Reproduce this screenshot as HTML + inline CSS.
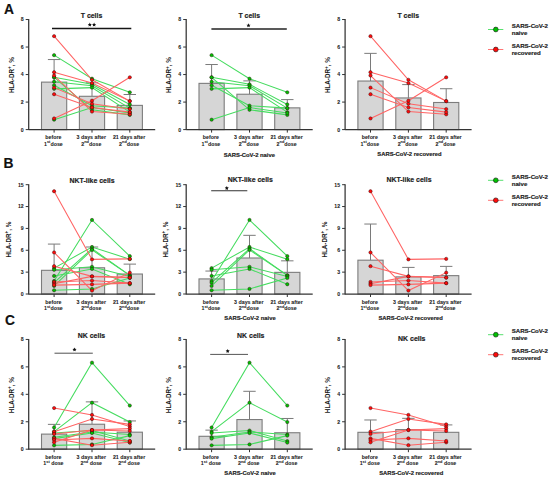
<!DOCTYPE html>
<html><head><meta charset="utf-8"><style>
html,body{margin:0;padding:0;background:#fff;overflow:hidden;width:550px;height:480px;}
svg{display:block;font-family:"Liberation Sans", sans-serif;}
text{stroke:#1a1a1a;stroke-width:0.16px;} .xl{stroke-width:0.05px;}
</style></head><body>
<svg width="550" height="480" viewBox="0 0 550 480">
<rect width="550" height="480" fill="#fff"/>
<line x1="54.10" y1="82.13" x2="54.10" y2="59.56" stroke="#7a7a7a" stroke-width="1"/>
<line x1="47.90" y1="59.56" x2="60.30" y2="59.56" stroke="#7a7a7a" stroke-width="1"/>
<rect x="41.50" y="82.13" width="25.2" height="47.47" fill="#d6d6d6" stroke="#7c7c7c" stroke-width="1.1"/>
<line x1="92.00" y1="96.30" x2="92.00" y2="82.82" stroke="#7a7a7a" stroke-width="1"/>
<line x1="85.80" y1="82.82" x2="98.20" y2="82.82" stroke="#7a7a7a" stroke-width="1"/>
<rect x="79.40" y="96.30" width="25.2" height="33.30" fill="#d6d6d6" stroke="#7c7c7c" stroke-width="1.1"/>
<line x1="129.80" y1="105.38" x2="129.80" y2="94.51" stroke="#7a7a7a" stroke-width="1"/>
<line x1="123.60" y1="94.51" x2="136.00" y2="94.51" stroke="#7a7a7a" stroke-width="1"/>
<rect x="117.20" y="105.38" width="25.2" height="24.22" fill="#d6d6d6" stroke="#7c7c7c" stroke-width="1.1"/>
<polyline points="54.10,55.16 92.00,78.69 129.80,92.31" fill="none" stroke="#45dc5f" stroke-width="1.05"/>
<polyline points="54.10,77.31 92.00,84.33 129.80,104.42" fill="none" stroke="#45dc5f" stroke-width="1.05"/>
<polyline points="54.10,77.31 92.00,109.79 129.80,114.88" fill="none" stroke="#45dc5f" stroke-width="1.05"/>
<polyline points="54.10,81.72 92.00,85.71 129.80,108.13" fill="none" stroke="#45dc5f" stroke-width="1.05"/>
<polyline points="54.10,85.29 92.00,105.66 129.80,108.13" fill="none" stroke="#45dc5f" stroke-width="1.05"/>
<polyline points="54.10,88.87 92.00,87.63 129.80,112.12" fill="none" stroke="#45dc5f" stroke-width="1.05"/>
<polyline points="54.10,119.69 92.00,107.58 129.80,113.09" fill="none" stroke="#45dc5f" stroke-width="1.05"/>
<polyline points="54.10,36.17 92.00,79.79 129.80,101.12" fill="none" stroke="#ff6464" stroke-width="1.05"/>
<polyline points="54.10,72.22 92.00,83.09 129.80,101.12" fill="none" stroke="#ff6464" stroke-width="1.05"/>
<polyline points="54.10,75.52 92.00,111.57 129.80,114.33" fill="none" stroke="#ff6464" stroke-width="1.05"/>
<polyline points="54.10,87.63 92.00,103.73 129.80,109.10" fill="none" stroke="#ff6464" stroke-width="1.05"/>
<polyline points="54.10,94.24 92.00,107.45 129.80,112.12" fill="none" stroke="#ff6464" stroke-width="1.05"/>
<polyline points="54.10,118.45 92.00,100.70 129.80,77.31" fill="none" stroke="#ff6464" stroke-width="1.05"/>
<circle cx="54.10" cy="55.16" r="1.65" fill="#00c000" stroke="#301010" stroke-width="0.45"/>
<circle cx="92.00" cy="78.69" r="1.65" fill="#00c000" stroke="#301010" stroke-width="0.45"/>
<circle cx="129.80" cy="92.31" r="1.65" fill="#00c000" stroke="#301010" stroke-width="0.45"/>
<circle cx="54.10" cy="77.31" r="1.65" fill="#00c000" stroke="#301010" stroke-width="0.45"/>
<circle cx="92.00" cy="84.33" r="1.65" fill="#00c000" stroke="#301010" stroke-width="0.45"/>
<circle cx="129.80" cy="104.42" r="1.65" fill="#00c000" stroke="#301010" stroke-width="0.45"/>
<circle cx="54.10" cy="77.31" r="1.65" fill="#00c000" stroke="#301010" stroke-width="0.45"/>
<circle cx="92.00" cy="109.79" r="1.65" fill="#00c000" stroke="#301010" stroke-width="0.45"/>
<circle cx="129.80" cy="114.88" r="1.65" fill="#00c000" stroke="#301010" stroke-width="0.45"/>
<circle cx="54.10" cy="81.72" r="1.65" fill="#00c000" stroke="#301010" stroke-width="0.45"/>
<circle cx="92.00" cy="85.71" r="1.65" fill="#00c000" stroke="#301010" stroke-width="0.45"/>
<circle cx="129.80" cy="108.13" r="1.65" fill="#00c000" stroke="#301010" stroke-width="0.45"/>
<circle cx="54.10" cy="85.29" r="1.65" fill="#00c000" stroke="#301010" stroke-width="0.45"/>
<circle cx="92.00" cy="105.66" r="1.65" fill="#00c000" stroke="#301010" stroke-width="0.45"/>
<circle cx="129.80" cy="108.13" r="1.65" fill="#00c000" stroke="#301010" stroke-width="0.45"/>
<circle cx="54.10" cy="88.87" r="1.65" fill="#00c000" stroke="#301010" stroke-width="0.45"/>
<circle cx="92.00" cy="87.63" r="1.65" fill="#00c000" stroke="#301010" stroke-width="0.45"/>
<circle cx="129.80" cy="112.12" r="1.65" fill="#00c000" stroke="#301010" stroke-width="0.45"/>
<circle cx="54.10" cy="119.69" r="1.65" fill="#00c000" stroke="#301010" stroke-width="0.45"/>
<circle cx="92.00" cy="107.58" r="1.65" fill="#00c000" stroke="#301010" stroke-width="0.45"/>
<circle cx="129.80" cy="113.09" r="1.65" fill="#00c000" stroke="#301010" stroke-width="0.45"/>
<circle cx="54.10" cy="36.17" r="1.65" fill="#ff0a0a" stroke="#301010" stroke-width="0.45"/>
<circle cx="92.00" cy="79.79" r="1.65" fill="#ff0a0a" stroke="#301010" stroke-width="0.45"/>
<circle cx="129.80" cy="101.12" r="1.65" fill="#ff0a0a" stroke="#301010" stroke-width="0.45"/>
<circle cx="54.10" cy="72.22" r="1.65" fill="#ff0a0a" stroke="#301010" stroke-width="0.45"/>
<circle cx="92.00" cy="83.09" r="1.65" fill="#ff0a0a" stroke="#301010" stroke-width="0.45"/>
<circle cx="129.80" cy="101.12" r="1.65" fill="#ff0a0a" stroke="#301010" stroke-width="0.45"/>
<circle cx="54.10" cy="75.52" r="1.65" fill="#ff0a0a" stroke="#301010" stroke-width="0.45"/>
<circle cx="92.00" cy="111.57" r="1.65" fill="#ff0a0a" stroke="#301010" stroke-width="0.45"/>
<circle cx="129.80" cy="114.33" r="1.65" fill="#ff0a0a" stroke="#301010" stroke-width="0.45"/>
<circle cx="54.10" cy="87.63" r="1.65" fill="#ff0a0a" stroke="#301010" stroke-width="0.45"/>
<circle cx="92.00" cy="103.73" r="1.65" fill="#ff0a0a" stroke="#301010" stroke-width="0.45"/>
<circle cx="129.80" cy="109.10" r="1.65" fill="#ff0a0a" stroke="#301010" stroke-width="0.45"/>
<circle cx="54.10" cy="94.24" r="1.65" fill="#ff0a0a" stroke="#301010" stroke-width="0.45"/>
<circle cx="92.00" cy="107.45" r="1.65" fill="#ff0a0a" stroke="#301010" stroke-width="0.45"/>
<circle cx="129.80" cy="112.12" r="1.65" fill="#ff0a0a" stroke="#301010" stroke-width="0.45"/>
<circle cx="54.10" cy="118.45" r="1.65" fill="#ff0a0a" stroke="#301010" stroke-width="0.45"/>
<circle cx="92.00" cy="100.70" r="1.65" fill="#ff0a0a" stroke="#301010" stroke-width="0.45"/>
<circle cx="129.80" cy="77.31" r="1.65" fill="#ff0a0a" stroke="#301010" stroke-width="0.45"/>
<line x1="28.70" y1="19.02" x2="28.70" y2="130.10" stroke="#333333" stroke-width="1.25"/>
<line x1="28.70" y1="129.60" x2="155.20" y2="129.60" stroke="#333333" stroke-width="1.25"/>
<line x1="25.70" y1="129.60" x2="28.70" y2="129.60" stroke="#333333" stroke-width="1"/>
<text x="23.70" y="131.50" font-size="5.2" class="xl" text-anchor="end" font-weight="bold" fill="#222">0</text>
<line x1="25.70" y1="102.08" x2="28.70" y2="102.08" stroke="#333333" stroke-width="1"/>
<text x="23.70" y="103.98" font-size="5.2" class="xl" text-anchor="end" font-weight="bold" fill="#222">2</text>
<line x1="25.70" y1="74.56" x2="28.70" y2="74.56" stroke="#333333" stroke-width="1"/>
<text x="23.70" y="76.46" font-size="5.2" class="xl" text-anchor="end" font-weight="bold" fill="#222">4</text>
<line x1="25.70" y1="47.04" x2="28.70" y2="47.04" stroke="#333333" stroke-width="1"/>
<text x="23.70" y="48.94" font-size="5.2" class="xl" text-anchor="end" font-weight="bold" fill="#222">6</text>
<line x1="25.70" y1="19.52" x2="28.70" y2="19.52" stroke="#333333" stroke-width="1"/>
<text x="23.70" y="21.42" font-size="5.2" class="xl" text-anchor="end" font-weight="bold" fill="#222">8</text>
<line x1="54.10" y1="129.60" x2="54.10" y2="132.60" stroke="#333333" stroke-width="1"/>
<line x1="92.00" y1="129.60" x2="92.00" y2="132.60" stroke="#333333" stroke-width="1"/>
<line x1="129.80" y1="129.60" x2="129.80" y2="132.60" stroke="#333333" stroke-width="1"/>
<text x="53.40" y="139.20" font-size="5.3" text-anchor="middle" font-weight="bold" fill="#222" class="xl">before</text>
<text x="53.40" y="145.50" font-size="5.3" text-anchor="middle" font-weight="bold" fill="#222" class="xl">1<tspan font-size="3.9" dy="-2.1">st</tspan><tspan dy="2.1">dose</tspan></text>
<text x="91.30" y="139.20" font-size="5.3" text-anchor="middle" font-weight="bold" fill="#222" class="xl">3 days after</text>
<text x="91.30" y="145.50" font-size="5.3" text-anchor="middle" font-weight="bold" fill="#222" class="xl">2<tspan font-size="3.9" dy="-2.1">nd</tspan><tspan dy="2.1">dose</tspan></text>
<text x="129.10" y="139.20" font-size="5.3" text-anchor="middle" font-weight="bold" fill="#222" class="xl">21 days after</text>
<text x="129.10" y="145.50" font-size="5.3" text-anchor="middle" font-weight="bold" fill="#222" class="xl">2<tspan font-size="3.9" dy="-2.1">nd</tspan><tspan dy="2.1">dose</tspan></text>
<text transform="translate(13.80,75.11) rotate(-90)" font-size="6.3" text-anchor="middle" font-weight="bold" fill="#1a1a1a" class="xl">HLA-DR<tspan font-size="4.6" dy="-2.7">+</tspan><tspan dy="2.7">, %</tspan></text>
<text x="91.55" y="18.00" font-size="6.95" text-anchor="middle" font-weight="bold" fill="#222">T cells</text>
<line x1="52.00" y1="28.50" x2="131.30" y2="28.50" stroke="#151515" stroke-width="1.3"/>
<polygon points="89.80,22.60 90.42,23.90 91.84,24.09 90.80,25.07 91.06,26.49 89.80,25.80 88.54,26.49 88.80,25.07 87.76,24.09 89.18,23.90" fill="#111"/>
<polygon points="94.10,22.60 94.72,23.90 96.14,24.09 95.10,25.07 95.36,26.49 94.10,25.80 92.84,26.49 93.10,25.07 92.06,24.09 93.48,23.90" fill="#111"/>
<line x1="211.60" y1="83.37" x2="211.60" y2="64.52" stroke="#7a7a7a" stroke-width="1"/>
<line x1="205.40" y1="64.52" x2="217.80" y2="64.52" stroke="#7a7a7a" stroke-width="1"/>
<rect x="199.00" y="83.37" width="25.2" height="46.23" fill="#d6d6d6" stroke="#7c7c7c" stroke-width="1.1"/>
<line x1="249.50" y1="94.24" x2="249.50" y2="80.89" stroke="#7a7a7a" stroke-width="1"/>
<line x1="243.30" y1="80.89" x2="255.70" y2="80.89" stroke="#7a7a7a" stroke-width="1"/>
<rect x="236.90" y="94.24" width="25.2" height="35.36" fill="#d6d6d6" stroke="#7c7c7c" stroke-width="1.1"/>
<line x1="287.30" y1="107.86" x2="287.30" y2="99.60" stroke="#7a7a7a" stroke-width="1"/>
<line x1="281.10" y1="99.60" x2="293.50" y2="99.60" stroke="#7a7a7a" stroke-width="1"/>
<rect x="274.70" y="107.86" width="25.2" height="21.74" fill="#d6d6d6" stroke="#7c7c7c" stroke-width="1.1"/>
<polyline points="211.60,55.16 249.50,78.69 287.30,92.31" fill="none" stroke="#45dc5f" stroke-width="1.05"/>
<polyline points="211.60,77.31 249.50,84.33 287.30,104.42" fill="none" stroke="#45dc5f" stroke-width="1.05"/>
<polyline points="211.60,77.31 249.50,109.79 287.30,114.88" fill="none" stroke="#45dc5f" stroke-width="1.05"/>
<polyline points="211.60,81.72 249.50,85.71 287.30,108.13" fill="none" stroke="#45dc5f" stroke-width="1.05"/>
<polyline points="211.60,85.29 249.50,105.66 287.30,108.13" fill="none" stroke="#45dc5f" stroke-width="1.05"/>
<polyline points="211.60,88.87 249.50,87.63 287.30,112.12" fill="none" stroke="#45dc5f" stroke-width="1.05"/>
<polyline points="211.60,119.69 249.50,107.58 287.30,113.09" fill="none" stroke="#45dc5f" stroke-width="1.05"/>
<circle cx="211.60" cy="55.16" r="1.65" fill="#00c000" stroke="#301010" stroke-width="0.45"/>
<circle cx="249.50" cy="78.69" r="1.65" fill="#00c000" stroke="#301010" stroke-width="0.45"/>
<circle cx="287.30" cy="92.31" r="1.65" fill="#00c000" stroke="#301010" stroke-width="0.45"/>
<circle cx="211.60" cy="77.31" r="1.65" fill="#00c000" stroke="#301010" stroke-width="0.45"/>
<circle cx="249.50" cy="84.33" r="1.65" fill="#00c000" stroke="#301010" stroke-width="0.45"/>
<circle cx="287.30" cy="104.42" r="1.65" fill="#00c000" stroke="#301010" stroke-width="0.45"/>
<circle cx="211.60" cy="77.31" r="1.65" fill="#00c000" stroke="#301010" stroke-width="0.45"/>
<circle cx="249.50" cy="109.79" r="1.65" fill="#00c000" stroke="#301010" stroke-width="0.45"/>
<circle cx="287.30" cy="114.88" r="1.65" fill="#00c000" stroke="#301010" stroke-width="0.45"/>
<circle cx="211.60" cy="81.72" r="1.65" fill="#00c000" stroke="#301010" stroke-width="0.45"/>
<circle cx="249.50" cy="85.71" r="1.65" fill="#00c000" stroke="#301010" stroke-width="0.45"/>
<circle cx="287.30" cy="108.13" r="1.65" fill="#00c000" stroke="#301010" stroke-width="0.45"/>
<circle cx="211.60" cy="85.29" r="1.65" fill="#00c000" stroke="#301010" stroke-width="0.45"/>
<circle cx="249.50" cy="105.66" r="1.65" fill="#00c000" stroke="#301010" stroke-width="0.45"/>
<circle cx="287.30" cy="108.13" r="1.65" fill="#00c000" stroke="#301010" stroke-width="0.45"/>
<circle cx="211.60" cy="88.87" r="1.65" fill="#00c000" stroke="#301010" stroke-width="0.45"/>
<circle cx="249.50" cy="87.63" r="1.65" fill="#00c000" stroke="#301010" stroke-width="0.45"/>
<circle cx="287.30" cy="112.12" r="1.65" fill="#00c000" stroke="#301010" stroke-width="0.45"/>
<circle cx="211.60" cy="119.69" r="1.65" fill="#00c000" stroke="#301010" stroke-width="0.45"/>
<circle cx="249.50" cy="107.58" r="1.65" fill="#00c000" stroke="#301010" stroke-width="0.45"/>
<circle cx="287.30" cy="113.09" r="1.65" fill="#00c000" stroke="#301010" stroke-width="0.45"/>
<line x1="186.20" y1="19.02" x2="186.20" y2="130.10" stroke="#333333" stroke-width="1.25"/>
<line x1="186.20" y1="129.60" x2="312.70" y2="129.60" stroke="#333333" stroke-width="1.25"/>
<line x1="183.20" y1="129.60" x2="186.20" y2="129.60" stroke="#333333" stroke-width="1"/>
<text x="181.20" y="131.50" font-size="5.2" class="xl" text-anchor="end" font-weight="bold" fill="#222">0</text>
<line x1="183.20" y1="102.08" x2="186.20" y2="102.08" stroke="#333333" stroke-width="1"/>
<text x="181.20" y="103.98" font-size="5.2" class="xl" text-anchor="end" font-weight="bold" fill="#222">2</text>
<line x1="183.20" y1="74.56" x2="186.20" y2="74.56" stroke="#333333" stroke-width="1"/>
<text x="181.20" y="76.46" font-size="5.2" class="xl" text-anchor="end" font-weight="bold" fill="#222">4</text>
<line x1="183.20" y1="47.04" x2="186.20" y2="47.04" stroke="#333333" stroke-width="1"/>
<text x="181.20" y="48.94" font-size="5.2" class="xl" text-anchor="end" font-weight="bold" fill="#222">6</text>
<line x1="183.20" y1="19.52" x2="186.20" y2="19.52" stroke="#333333" stroke-width="1"/>
<text x="181.20" y="21.42" font-size="5.2" class="xl" text-anchor="end" font-weight="bold" fill="#222">8</text>
<line x1="211.60" y1="129.60" x2="211.60" y2="132.60" stroke="#333333" stroke-width="1"/>
<line x1="249.50" y1="129.60" x2="249.50" y2="132.60" stroke="#333333" stroke-width="1"/>
<line x1="287.30" y1="129.60" x2="287.30" y2="132.60" stroke="#333333" stroke-width="1"/>
<text x="210.90" y="139.20" font-size="5.3" text-anchor="middle" font-weight="bold" fill="#222" class="xl">before</text>
<text x="210.90" y="145.50" font-size="5.3" text-anchor="middle" font-weight="bold" fill="#222" class="xl">1<tspan font-size="3.9" dy="-2.1">st</tspan><tspan dy="2.1">dose</tspan></text>
<text x="248.80" y="139.20" font-size="5.3" text-anchor="middle" font-weight="bold" fill="#222" class="xl">3 days after</text>
<text x="248.80" y="145.50" font-size="5.3" text-anchor="middle" font-weight="bold" fill="#222" class="xl">2<tspan font-size="3.9" dy="-2.1">nd</tspan><tspan dy="2.1">dose</tspan></text>
<text x="286.60" y="139.20" font-size="5.3" text-anchor="middle" font-weight="bold" fill="#222" class="xl">21 days after</text>
<text x="286.60" y="145.50" font-size="5.3" text-anchor="middle" font-weight="bold" fill="#222" class="xl">2<tspan font-size="3.9" dy="-2.1">nd</tspan><tspan dy="2.1">dose</tspan></text>
<text transform="translate(171.30,75.11) rotate(-90)" font-size="6.3" text-anchor="middle" font-weight="bold" fill="#1a1a1a" class="xl">HLA-DR<tspan font-size="4.6" dy="-2.7">+</tspan><tspan dy="2.7">, %</tspan></text>
<text x="249.20" y="17.70" font-size="6.95" text-anchor="middle" font-weight="bold" fill="#222">T cells</text>
<text x="249.30" y="157.00" font-size="5.85" text-anchor="middle" font-weight="bold" fill="#1a1a1a">SARS-CoV-2 naive</text>
<line x1="211.40" y1="29.00" x2="286.80" y2="29.00" stroke="#222222" stroke-width="1.35"/>
<polygon points="248.50,23.35 249.12,24.65 250.54,24.84 249.50,25.82 249.76,27.24 248.50,26.55 247.24,27.24 247.50,25.82 246.46,24.84 247.88,24.65" fill="#111"/>
<line x1="370.50" y1="81.03" x2="370.50" y2="53.37" stroke="#7a7a7a" stroke-width="1"/>
<line x1="364.30" y1="53.37" x2="376.70" y2="53.37" stroke="#7a7a7a" stroke-width="1"/>
<rect x="357.90" y="81.03" width="25.2" height="48.57" fill="#d6d6d6" stroke="#7c7c7c" stroke-width="1.1"/>
<line x1="408.40" y1="97.95" x2="408.40" y2="84.60" stroke="#7a7a7a" stroke-width="1"/>
<line x1="402.20" y1="84.60" x2="414.60" y2="84.60" stroke="#7a7a7a" stroke-width="1"/>
<rect x="395.80" y="97.95" width="25.2" height="31.65" fill="#d6d6d6" stroke="#7c7c7c" stroke-width="1.1"/>
<line x1="446.20" y1="102.49" x2="446.20" y2="88.73" stroke="#7a7a7a" stroke-width="1"/>
<line x1="440.00" y1="88.73" x2="452.40" y2="88.73" stroke="#7a7a7a" stroke-width="1"/>
<rect x="433.60" y="102.49" width="25.2" height="27.11" fill="#d6d6d6" stroke="#7c7c7c" stroke-width="1.1"/>
<polyline points="370.50,36.17 408.40,79.79 446.20,101.12" fill="none" stroke="#ff6464" stroke-width="1.05"/>
<polyline points="370.50,72.22 408.40,83.09 446.20,101.12" fill="none" stroke="#ff6464" stroke-width="1.05"/>
<polyline points="370.50,75.52 408.40,111.57 446.20,114.33" fill="none" stroke="#ff6464" stroke-width="1.05"/>
<polyline points="370.50,87.63 408.40,103.73 446.20,109.10" fill="none" stroke="#ff6464" stroke-width="1.05"/>
<polyline points="370.50,94.24 408.40,107.45 446.20,112.12" fill="none" stroke="#ff6464" stroke-width="1.05"/>
<polyline points="370.50,118.45 408.40,100.70 446.20,77.31" fill="none" stroke="#ff6464" stroke-width="1.05"/>
<circle cx="370.50" cy="36.17" r="1.65" fill="#ff0a0a" stroke="#301010" stroke-width="0.45"/>
<circle cx="408.40" cy="79.79" r="1.65" fill="#ff0a0a" stroke="#301010" stroke-width="0.45"/>
<circle cx="446.20" cy="101.12" r="1.65" fill="#ff0a0a" stroke="#301010" stroke-width="0.45"/>
<circle cx="370.50" cy="72.22" r="1.65" fill="#ff0a0a" stroke="#301010" stroke-width="0.45"/>
<circle cx="408.40" cy="83.09" r="1.65" fill="#ff0a0a" stroke="#301010" stroke-width="0.45"/>
<circle cx="446.20" cy="101.12" r="1.65" fill="#ff0a0a" stroke="#301010" stroke-width="0.45"/>
<circle cx="370.50" cy="75.52" r="1.65" fill="#ff0a0a" stroke="#301010" stroke-width="0.45"/>
<circle cx="408.40" cy="111.57" r="1.65" fill="#ff0a0a" stroke="#301010" stroke-width="0.45"/>
<circle cx="446.20" cy="114.33" r="1.65" fill="#ff0a0a" stroke="#301010" stroke-width="0.45"/>
<circle cx="370.50" cy="87.63" r="1.65" fill="#ff0a0a" stroke="#301010" stroke-width="0.45"/>
<circle cx="408.40" cy="103.73" r="1.65" fill="#ff0a0a" stroke="#301010" stroke-width="0.45"/>
<circle cx="446.20" cy="109.10" r="1.65" fill="#ff0a0a" stroke="#301010" stroke-width="0.45"/>
<circle cx="370.50" cy="94.24" r="1.65" fill="#ff0a0a" stroke="#301010" stroke-width="0.45"/>
<circle cx="408.40" cy="107.45" r="1.65" fill="#ff0a0a" stroke="#301010" stroke-width="0.45"/>
<circle cx="446.20" cy="112.12" r="1.65" fill="#ff0a0a" stroke="#301010" stroke-width="0.45"/>
<circle cx="370.50" cy="118.45" r="1.65" fill="#ff0a0a" stroke="#301010" stroke-width="0.45"/>
<circle cx="408.40" cy="100.70" r="1.65" fill="#ff0a0a" stroke="#301010" stroke-width="0.45"/>
<circle cx="446.20" cy="77.31" r="1.65" fill="#ff0a0a" stroke="#301010" stroke-width="0.45"/>
<line x1="345.10" y1="19.02" x2="345.10" y2="130.10" stroke="#333333" stroke-width="1.25"/>
<line x1="345.10" y1="129.60" x2="471.60" y2="129.60" stroke="#333333" stroke-width="1.25"/>
<line x1="342.10" y1="129.60" x2="345.10" y2="129.60" stroke="#333333" stroke-width="1"/>
<text x="340.10" y="131.50" font-size="5.2" class="xl" text-anchor="end" font-weight="bold" fill="#222">0</text>
<line x1="342.10" y1="102.08" x2="345.10" y2="102.08" stroke="#333333" stroke-width="1"/>
<text x="340.10" y="103.98" font-size="5.2" class="xl" text-anchor="end" font-weight="bold" fill="#222">2</text>
<line x1="342.10" y1="74.56" x2="345.10" y2="74.56" stroke="#333333" stroke-width="1"/>
<text x="340.10" y="76.46" font-size="5.2" class="xl" text-anchor="end" font-weight="bold" fill="#222">4</text>
<line x1="342.10" y1="47.04" x2="345.10" y2="47.04" stroke="#333333" stroke-width="1"/>
<text x="340.10" y="48.94" font-size="5.2" class="xl" text-anchor="end" font-weight="bold" fill="#222">6</text>
<line x1="342.10" y1="19.52" x2="345.10" y2="19.52" stroke="#333333" stroke-width="1"/>
<text x="340.10" y="21.42" font-size="5.2" class="xl" text-anchor="end" font-weight="bold" fill="#222">8</text>
<line x1="370.50" y1="129.60" x2="370.50" y2="132.60" stroke="#333333" stroke-width="1"/>
<line x1="408.40" y1="129.60" x2="408.40" y2="132.60" stroke="#333333" stroke-width="1"/>
<line x1="446.20" y1="129.60" x2="446.20" y2="132.60" stroke="#333333" stroke-width="1"/>
<text x="369.80" y="139.20" font-size="5.3" text-anchor="middle" font-weight="bold" fill="#222" class="xl">before</text>
<text x="369.80" y="145.50" font-size="5.3" text-anchor="middle" font-weight="bold" fill="#222" class="xl">1<tspan font-size="3.9" dy="-2.1">st</tspan><tspan dy="2.1">dose</tspan></text>
<text x="407.70" y="139.20" font-size="5.3" text-anchor="middle" font-weight="bold" fill="#222" class="xl">3 days after</text>
<text x="407.70" y="145.50" font-size="5.3" text-anchor="middle" font-weight="bold" fill="#222" class="xl">2<tspan font-size="3.9" dy="-2.1">nd</tspan><tspan dy="2.1">dose</tspan></text>
<text x="445.50" y="139.20" font-size="5.3" text-anchor="middle" font-weight="bold" fill="#222" class="xl">21 days after</text>
<text x="445.50" y="145.50" font-size="5.3" text-anchor="middle" font-weight="bold" fill="#222" class="xl">2<tspan font-size="3.9" dy="-2.1">nd</tspan><tspan dy="2.1">dose</tspan></text>
<text transform="translate(330.20,75.11) rotate(-90)" font-size="6.3" text-anchor="middle" font-weight="bold" fill="#1a1a1a" class="xl">HLA-DR<tspan font-size="4.6" dy="-2.7">+</tspan><tspan dy="2.7">, %</tspan></text>
<text x="408.20" y="17.90" font-size="6.95" text-anchor="middle" font-weight="bold" fill="#222">T cells</text>
<text x="409.50" y="156.40" font-size="5.85" text-anchor="middle" font-weight="bold" fill="#1a1a1a">SARS-CoV-2 recovered</text>
<line x1="488" y1="29.50" x2="503.3" y2="29.50" stroke="#45dc5f" stroke-width="0.9"/>
<circle cx="495.8" cy="29.50" r="2.4" fill="#00c000" stroke="#1a1a1a" stroke-width="0.6"/>
<text x="511.7" y="28.20" font-size="6.1" font-weight="bold" fill="#222">SARS-CoV-2</text>
<text x="511.7" y="35.10" font-size="6.1" font-weight="bold" fill="#222">naive</text>
<line x1="488" y1="49.50" x2="503.3" y2="49.50" stroke="#ff6464" stroke-width="0.9"/>
<circle cx="495.8" cy="49.50" r="2.4" fill="#ff0a0a" stroke="#1a1a1a" stroke-width="0.6"/>
<text x="511.7" y="48.20" font-size="6.1" font-weight="bold" fill="#222">SARS-CoV-2</text>
<text x="511.7" y="55.10" font-size="6.1" font-weight="bold" fill="#222">recovered</text>
<line x1="54.10" y1="270.32" x2="54.10" y2="244.08" stroke="#7a7a7a" stroke-width="1"/>
<line x1="47.90" y1="244.08" x2="60.30" y2="244.08" stroke="#7a7a7a" stroke-width="1"/>
<rect x="41.50" y="270.32" width="25.2" height="23.68" fill="#d6d6d6" stroke="#7c7c7c" stroke-width="1.1"/>
<line x1="92.00" y1="267.77" x2="92.00" y2="247.00" stroke="#7a7a7a" stroke-width="1"/>
<line x1="85.80" y1="247.00" x2="98.20" y2="247.00" stroke="#7a7a7a" stroke-width="1"/>
<rect x="79.40" y="267.77" width="25.2" height="26.23" fill="#d6d6d6" stroke="#7c7c7c" stroke-width="1.1"/>
<line x1="129.80" y1="274.03" x2="129.80" y2="264.12" stroke="#7a7a7a" stroke-width="1"/>
<line x1="123.60" y1="264.12" x2="136.00" y2="264.12" stroke="#7a7a7a" stroke-width="1"/>
<rect x="117.20" y="274.03" width="25.2" height="19.97" fill="#d6d6d6" stroke="#7c7c7c" stroke-width="1.1"/>
<polyline points="54.10,280.96 92.00,219.96 129.80,256.18" fill="none" stroke="#45dc5f" stroke-width="1.05"/>
<polyline points="54.10,268.13 92.00,247.00 129.80,259.17" fill="none" stroke="#45dc5f" stroke-width="1.05"/>
<polyline points="54.10,282.63 92.00,248.67 129.80,275.35" fill="none" stroke="#45dc5f" stroke-width="1.05"/>
<polyline points="54.10,285.91 92.00,249.91 129.80,275.35" fill="none" stroke="#45dc5f" stroke-width="1.05"/>
<polyline points="54.10,269.81 92.00,266.82 129.80,276.51" fill="none" stroke="#45dc5f" stroke-width="1.05"/>
<polyline points="54.10,275.93 92.00,268.93 129.80,284.24" fill="none" stroke="#45dc5f" stroke-width="1.05"/>
<polyline points="54.10,290.28 92.00,288.90 129.80,277.97" fill="none" stroke="#45dc5f" stroke-width="1.05"/>
<polyline points="54.10,191.25 92.00,259.39 129.80,258.88" fill="none" stroke="#ff6464" stroke-width="1.05"/>
<polyline points="54.10,252.46 92.00,290.58 129.80,272.65" fill="none" stroke="#ff6464" stroke-width="1.05"/>
<polyline points="54.10,266.16 92.00,276.37 129.80,277.60" fill="none" stroke="#ff6464" stroke-width="1.05"/>
<polyline points="54.10,281.90 92.00,280.59 129.80,283.14" fill="none" stroke="#ff6464" stroke-width="1.05"/>
<polyline points="54.10,283.65 92.00,276.37 129.80,277.60" fill="none" stroke="#ff6464" stroke-width="1.05"/>
<polyline points="54.10,285.11 92.00,284.38 129.80,283.14" fill="none" stroke="#ff6464" stroke-width="1.05"/>
<circle cx="54.10" cy="280.96" r="1.65" fill="#00c000" stroke="#301010" stroke-width="0.45"/>
<circle cx="92.00" cy="219.96" r="1.65" fill="#00c000" stroke="#301010" stroke-width="0.45"/>
<circle cx="129.80" cy="256.18" r="1.65" fill="#00c000" stroke="#301010" stroke-width="0.45"/>
<circle cx="54.10" cy="268.13" r="1.65" fill="#00c000" stroke="#301010" stroke-width="0.45"/>
<circle cx="92.00" cy="247.00" r="1.65" fill="#00c000" stroke="#301010" stroke-width="0.45"/>
<circle cx="129.80" cy="259.17" r="1.65" fill="#00c000" stroke="#301010" stroke-width="0.45"/>
<circle cx="54.10" cy="282.63" r="1.65" fill="#00c000" stroke="#301010" stroke-width="0.45"/>
<circle cx="92.00" cy="248.67" r="1.65" fill="#00c000" stroke="#301010" stroke-width="0.45"/>
<circle cx="129.80" cy="275.35" r="1.65" fill="#00c000" stroke="#301010" stroke-width="0.45"/>
<circle cx="54.10" cy="285.91" r="1.65" fill="#00c000" stroke="#301010" stroke-width="0.45"/>
<circle cx="92.00" cy="249.91" r="1.65" fill="#00c000" stroke="#301010" stroke-width="0.45"/>
<circle cx="129.80" cy="275.35" r="1.65" fill="#00c000" stroke="#301010" stroke-width="0.45"/>
<circle cx="54.10" cy="269.81" r="1.65" fill="#00c000" stroke="#301010" stroke-width="0.45"/>
<circle cx="92.00" cy="266.82" r="1.65" fill="#00c000" stroke="#301010" stroke-width="0.45"/>
<circle cx="129.80" cy="276.51" r="1.65" fill="#00c000" stroke="#301010" stroke-width="0.45"/>
<circle cx="54.10" cy="275.93" r="1.65" fill="#00c000" stroke="#301010" stroke-width="0.45"/>
<circle cx="92.00" cy="268.93" r="1.65" fill="#00c000" stroke="#301010" stroke-width="0.45"/>
<circle cx="129.80" cy="284.24" r="1.65" fill="#00c000" stroke="#301010" stroke-width="0.45"/>
<circle cx="54.10" cy="290.28" r="1.65" fill="#00c000" stroke="#301010" stroke-width="0.45"/>
<circle cx="92.00" cy="288.90" r="1.65" fill="#00c000" stroke="#301010" stroke-width="0.45"/>
<circle cx="129.80" cy="277.97" r="1.65" fill="#00c000" stroke="#301010" stroke-width="0.45"/>
<circle cx="54.10" cy="191.25" r="1.65" fill="#ff0a0a" stroke="#301010" stroke-width="0.45"/>
<circle cx="92.00" cy="259.39" r="1.65" fill="#ff0a0a" stroke="#301010" stroke-width="0.45"/>
<circle cx="129.80" cy="258.88" r="1.65" fill="#ff0a0a" stroke="#301010" stroke-width="0.45"/>
<circle cx="54.10" cy="252.46" r="1.65" fill="#ff0a0a" stroke="#301010" stroke-width="0.45"/>
<circle cx="92.00" cy="290.58" r="1.65" fill="#ff0a0a" stroke="#301010" stroke-width="0.45"/>
<circle cx="129.80" cy="272.65" r="1.65" fill="#ff0a0a" stroke="#301010" stroke-width="0.45"/>
<circle cx="54.10" cy="266.16" r="1.65" fill="#ff0a0a" stroke="#301010" stroke-width="0.45"/>
<circle cx="92.00" cy="276.37" r="1.65" fill="#ff0a0a" stroke="#301010" stroke-width="0.45"/>
<circle cx="129.80" cy="277.60" r="1.65" fill="#ff0a0a" stroke="#301010" stroke-width="0.45"/>
<circle cx="54.10" cy="281.90" r="1.65" fill="#ff0a0a" stroke="#301010" stroke-width="0.45"/>
<circle cx="92.00" cy="280.59" r="1.65" fill="#ff0a0a" stroke="#301010" stroke-width="0.45"/>
<circle cx="129.80" cy="283.14" r="1.65" fill="#ff0a0a" stroke="#301010" stroke-width="0.45"/>
<circle cx="54.10" cy="283.65" r="1.65" fill="#ff0a0a" stroke="#301010" stroke-width="0.45"/>
<circle cx="92.00" cy="276.37" r="1.65" fill="#ff0a0a" stroke="#301010" stroke-width="0.45"/>
<circle cx="129.80" cy="277.60" r="1.65" fill="#ff0a0a" stroke="#301010" stroke-width="0.45"/>
<circle cx="54.10" cy="285.11" r="1.65" fill="#ff0a0a" stroke="#301010" stroke-width="0.45"/>
<circle cx="92.00" cy="284.38" r="1.65" fill="#ff0a0a" stroke="#301010" stroke-width="0.45"/>
<circle cx="129.80" cy="283.14" r="1.65" fill="#ff0a0a" stroke="#301010" stroke-width="0.45"/>
<line x1="28.70" y1="184.19" x2="28.70" y2="294.50" stroke="#333333" stroke-width="1.25"/>
<line x1="28.70" y1="294.00" x2="155.20" y2="294.00" stroke="#333333" stroke-width="1.25"/>
<line x1="25.70" y1="294.00" x2="28.70" y2="294.00" stroke="#333333" stroke-width="1"/>
<text x="23.70" y="295.90" font-size="5.2" class="xl" text-anchor="end" font-weight="bold" fill="#222">0</text>
<line x1="25.70" y1="272.14" x2="28.70" y2="272.14" stroke="#333333" stroke-width="1"/>
<text x="23.70" y="274.04" font-size="5.2" class="xl" text-anchor="end" font-weight="bold" fill="#222">3</text>
<line x1="25.70" y1="250.28" x2="28.70" y2="250.28" stroke="#333333" stroke-width="1"/>
<text x="23.70" y="252.18" font-size="5.2" class="xl" text-anchor="end" font-weight="bold" fill="#222">6</text>
<line x1="25.70" y1="228.42" x2="28.70" y2="228.42" stroke="#333333" stroke-width="1"/>
<text x="23.70" y="230.32" font-size="5.2" class="xl" text-anchor="end" font-weight="bold" fill="#222">9</text>
<line x1="25.70" y1="206.56" x2="28.70" y2="206.56" stroke="#333333" stroke-width="1"/>
<text x="23.70" y="208.46" font-size="5.2" class="xl" text-anchor="end" font-weight="bold" fill="#222">12</text>
<line x1="25.70" y1="184.69" x2="28.70" y2="184.69" stroke="#333333" stroke-width="1"/>
<text x="23.70" y="186.59" font-size="5.2" class="xl" text-anchor="end" font-weight="bold" fill="#222">15</text>
<line x1="54.10" y1="294.00" x2="54.10" y2="297.00" stroke="#333333" stroke-width="1"/>
<line x1="92.00" y1="294.00" x2="92.00" y2="297.00" stroke="#333333" stroke-width="1"/>
<line x1="129.80" y1="294.00" x2="129.80" y2="297.00" stroke="#333333" stroke-width="1"/>
<text x="53.40" y="303.60" font-size="5.3" text-anchor="middle" font-weight="bold" fill="#222" class="xl">before</text>
<text x="53.40" y="309.90" font-size="5.3" text-anchor="middle" font-weight="bold" fill="#222" class="xl">1<tspan font-size="3.9" dy="-2.1">st</tspan><tspan dy="2.1">dose</tspan></text>
<text x="91.30" y="303.60" font-size="5.3" text-anchor="middle" font-weight="bold" fill="#222" class="xl">3 days after</text>
<text x="91.30" y="309.90" font-size="5.3" text-anchor="middle" font-weight="bold" fill="#222" class="xl">2<tspan font-size="3.9" dy="-2.1">nd</tspan><tspan dy="2.1">dose</tspan></text>
<text x="129.10" y="303.60" font-size="5.3" text-anchor="middle" font-weight="bold" fill="#222" class="xl">21 days after</text>
<text x="129.10" y="309.90" font-size="5.3" text-anchor="middle" font-weight="bold" fill="#222" class="xl">2<tspan font-size="3.9" dy="-2.1">nd</tspan><tspan dy="2.1">dose</tspan></text>
<text transform="translate(10.50,239.65) rotate(-90)" font-size="6.3" text-anchor="middle" font-weight="bold" fill="#1a1a1a" class="xl">HLA-DR<tspan font-size="4.6" dy="-2.7">+</tspan><tspan dy="2.7">, %</tspan></text>
<text x="92.10" y="182.50" font-size="6.95" text-anchor="middle" font-weight="bold" fill="#222">NKT-like cells</text>
<line x1="211.60" y1="278.92" x2="211.60" y2="271.05" stroke="#7a7a7a" stroke-width="1"/>
<line x1="205.40" y1="271.05" x2="217.80" y2="271.05" stroke="#7a7a7a" stroke-width="1"/>
<rect x="199.00" y="278.92" width="25.2" height="15.08" fill="#d6d6d6" stroke="#7c7c7c" stroke-width="1.1"/>
<line x1="249.50" y1="258.00" x2="249.50" y2="235.34" stroke="#7a7a7a" stroke-width="1"/>
<line x1="243.30" y1="235.34" x2="255.70" y2="235.34" stroke="#7a7a7a" stroke-width="1"/>
<rect x="236.90" y="258.00" width="25.2" height="36.00" fill="#d6d6d6" stroke="#7c7c7c" stroke-width="1.1"/>
<line x1="287.30" y1="272.36" x2="287.30" y2="260.84" stroke="#7a7a7a" stroke-width="1"/>
<line x1="281.10" y1="260.84" x2="293.50" y2="260.84" stroke="#7a7a7a" stroke-width="1"/>
<rect x="274.70" y="272.36" width="25.2" height="21.64" fill="#d6d6d6" stroke="#7c7c7c" stroke-width="1.1"/>
<polyline points="211.60,280.96 249.50,219.96 287.30,256.18" fill="none" stroke="#45dc5f" stroke-width="1.05"/>
<polyline points="211.60,268.13 249.50,247.00 287.30,259.17" fill="none" stroke="#45dc5f" stroke-width="1.05"/>
<polyline points="211.60,282.63 249.50,248.67 287.30,275.35" fill="none" stroke="#45dc5f" stroke-width="1.05"/>
<polyline points="211.60,285.91 249.50,249.91 287.30,275.35" fill="none" stroke="#45dc5f" stroke-width="1.05"/>
<polyline points="211.60,269.81 249.50,266.82 287.30,276.51" fill="none" stroke="#45dc5f" stroke-width="1.05"/>
<polyline points="211.60,275.93 249.50,268.93 287.30,284.24" fill="none" stroke="#45dc5f" stroke-width="1.05"/>
<polyline points="211.60,290.28 249.50,288.90 287.30,277.97" fill="none" stroke="#45dc5f" stroke-width="1.05"/>
<circle cx="211.60" cy="280.96" r="1.65" fill="#00c000" stroke="#301010" stroke-width="0.45"/>
<circle cx="249.50" cy="219.96" r="1.65" fill="#00c000" stroke="#301010" stroke-width="0.45"/>
<circle cx="287.30" cy="256.18" r="1.65" fill="#00c000" stroke="#301010" stroke-width="0.45"/>
<circle cx="211.60" cy="268.13" r="1.65" fill="#00c000" stroke="#301010" stroke-width="0.45"/>
<circle cx="249.50" cy="247.00" r="1.65" fill="#00c000" stroke="#301010" stroke-width="0.45"/>
<circle cx="287.30" cy="259.17" r="1.65" fill="#00c000" stroke="#301010" stroke-width="0.45"/>
<circle cx="211.60" cy="282.63" r="1.65" fill="#00c000" stroke="#301010" stroke-width="0.45"/>
<circle cx="249.50" cy="248.67" r="1.65" fill="#00c000" stroke="#301010" stroke-width="0.45"/>
<circle cx="287.30" cy="275.35" r="1.65" fill="#00c000" stroke="#301010" stroke-width="0.45"/>
<circle cx="211.60" cy="285.91" r="1.65" fill="#00c000" stroke="#301010" stroke-width="0.45"/>
<circle cx="249.50" cy="249.91" r="1.65" fill="#00c000" stroke="#301010" stroke-width="0.45"/>
<circle cx="287.30" cy="275.35" r="1.65" fill="#00c000" stroke="#301010" stroke-width="0.45"/>
<circle cx="211.60" cy="269.81" r="1.65" fill="#00c000" stroke="#301010" stroke-width="0.45"/>
<circle cx="249.50" cy="266.82" r="1.65" fill="#00c000" stroke="#301010" stroke-width="0.45"/>
<circle cx="287.30" cy="276.51" r="1.65" fill="#00c000" stroke="#301010" stroke-width="0.45"/>
<circle cx="211.60" cy="275.93" r="1.65" fill="#00c000" stroke="#301010" stroke-width="0.45"/>
<circle cx="249.50" cy="268.93" r="1.65" fill="#00c000" stroke="#301010" stroke-width="0.45"/>
<circle cx="287.30" cy="284.24" r="1.65" fill="#00c000" stroke="#301010" stroke-width="0.45"/>
<circle cx="211.60" cy="290.28" r="1.65" fill="#00c000" stroke="#301010" stroke-width="0.45"/>
<circle cx="249.50" cy="288.90" r="1.65" fill="#00c000" stroke="#301010" stroke-width="0.45"/>
<circle cx="287.30" cy="277.97" r="1.65" fill="#00c000" stroke="#301010" stroke-width="0.45"/>
<line x1="186.20" y1="184.19" x2="186.20" y2="294.50" stroke="#333333" stroke-width="1.25"/>
<line x1="186.20" y1="294.00" x2="312.70" y2="294.00" stroke="#333333" stroke-width="1.25"/>
<line x1="183.20" y1="294.00" x2="186.20" y2="294.00" stroke="#333333" stroke-width="1"/>
<text x="181.20" y="295.90" font-size="5.2" class="xl" text-anchor="end" font-weight="bold" fill="#222">0</text>
<line x1="183.20" y1="272.14" x2="186.20" y2="272.14" stroke="#333333" stroke-width="1"/>
<text x="181.20" y="274.04" font-size="5.2" class="xl" text-anchor="end" font-weight="bold" fill="#222">3</text>
<line x1="183.20" y1="250.28" x2="186.20" y2="250.28" stroke="#333333" stroke-width="1"/>
<text x="181.20" y="252.18" font-size="5.2" class="xl" text-anchor="end" font-weight="bold" fill="#222">6</text>
<line x1="183.20" y1="228.42" x2="186.20" y2="228.42" stroke="#333333" stroke-width="1"/>
<text x="181.20" y="230.32" font-size="5.2" class="xl" text-anchor="end" font-weight="bold" fill="#222">9</text>
<line x1="183.20" y1="206.56" x2="186.20" y2="206.56" stroke="#333333" stroke-width="1"/>
<text x="181.20" y="208.46" font-size="5.2" class="xl" text-anchor="end" font-weight="bold" fill="#222">12</text>
<line x1="183.20" y1="184.69" x2="186.20" y2="184.69" stroke="#333333" stroke-width="1"/>
<text x="181.20" y="186.59" font-size="5.2" class="xl" text-anchor="end" font-weight="bold" fill="#222">15</text>
<line x1="211.60" y1="294.00" x2="211.60" y2="297.00" stroke="#333333" stroke-width="1"/>
<line x1="249.50" y1="294.00" x2="249.50" y2="297.00" stroke="#333333" stroke-width="1"/>
<line x1="287.30" y1="294.00" x2="287.30" y2="297.00" stroke="#333333" stroke-width="1"/>
<text x="210.90" y="303.60" font-size="5.3" text-anchor="middle" font-weight="bold" fill="#222" class="xl">before</text>
<text x="210.90" y="309.90" font-size="5.3" text-anchor="middle" font-weight="bold" fill="#222" class="xl">1<tspan font-size="3.9" dy="-2.1">st</tspan><tspan dy="2.1">dose</tspan></text>
<text x="248.80" y="303.60" font-size="5.3" text-anchor="middle" font-weight="bold" fill="#222" class="xl">3 days after</text>
<text x="248.80" y="309.90" font-size="5.3" text-anchor="middle" font-weight="bold" fill="#222" class="xl">2<tspan font-size="3.9" dy="-2.1">nd</tspan><tspan dy="2.1">dose</tspan></text>
<text x="286.60" y="303.60" font-size="5.3" text-anchor="middle" font-weight="bold" fill="#222" class="xl">21 days after</text>
<text x="286.60" y="309.90" font-size="5.3" text-anchor="middle" font-weight="bold" fill="#222" class="xl">2<tspan font-size="3.9" dy="-2.1">nd</tspan><tspan dy="2.1">dose</tspan></text>
<text transform="translate(168.00,239.65) rotate(-90)" font-size="6.3" text-anchor="middle" font-weight="bold" fill="#1a1a1a" class="xl">HLA-DR<tspan font-size="4.6" dy="-2.7">+</tspan><tspan dy="2.7">, %</tspan></text>
<text x="250.30" y="181.90" font-size="6.95" text-anchor="middle" font-weight="bold" fill="#222">NKT-like cells</text>
<text x="250.00" y="320.10" font-size="5.85" text-anchor="middle" font-weight="bold" fill="#1a1a1a">SARS-CoV-2 naive</text>
<line x1="211.20" y1="190.70" x2="247.30" y2="190.70" stroke="#303030" stroke-width="1.05"/>
<polygon points="226.80,186.05 227.42,187.35 228.84,187.54 227.80,188.52 228.06,189.94 226.80,189.25 225.54,189.94 225.80,188.52 224.76,187.54 226.18,187.35" fill="#111"/>
<line x1="370.50" y1="260.19" x2="370.50" y2="224.04" stroke="#7a7a7a" stroke-width="1"/>
<line x1="364.30" y1="224.04" x2="376.70" y2="224.04" stroke="#7a7a7a" stroke-width="1"/>
<rect x="357.90" y="260.19" width="25.2" height="33.81" fill="#d6d6d6" stroke="#7c7c7c" stroke-width="1.1"/>
<line x1="408.40" y1="276.88" x2="408.40" y2="267.40" stroke="#7a7a7a" stroke-width="1"/>
<line x1="402.20" y1="267.40" x2="414.60" y2="267.40" stroke="#7a7a7a" stroke-width="1"/>
<rect x="395.80" y="276.88" width="25.2" height="17.12" fill="#d6d6d6" stroke="#7c7c7c" stroke-width="1.1"/>
<line x1="446.20" y1="275.64" x2="446.20" y2="266.38" stroke="#7a7a7a" stroke-width="1"/>
<line x1="440.00" y1="266.38" x2="452.40" y2="266.38" stroke="#7a7a7a" stroke-width="1"/>
<rect x="433.60" y="275.64" width="25.2" height="18.36" fill="#d6d6d6" stroke="#7c7c7c" stroke-width="1.1"/>
<polyline points="370.50,191.25 408.40,259.39 446.20,258.88" fill="none" stroke="#ff6464" stroke-width="1.05"/>
<polyline points="370.50,252.46 408.40,290.58 446.20,272.65" fill="none" stroke="#ff6464" stroke-width="1.05"/>
<polyline points="370.50,266.16 408.40,276.37 446.20,277.60" fill="none" stroke="#ff6464" stroke-width="1.05"/>
<polyline points="370.50,281.90 408.40,280.59 446.20,283.14" fill="none" stroke="#ff6464" stroke-width="1.05"/>
<polyline points="370.50,283.65 408.40,276.37 446.20,277.60" fill="none" stroke="#ff6464" stroke-width="1.05"/>
<polyline points="370.50,285.11 408.40,284.38 446.20,283.14" fill="none" stroke="#ff6464" stroke-width="1.05"/>
<circle cx="370.50" cy="191.25" r="1.65" fill="#ff0a0a" stroke="#301010" stroke-width="0.45"/>
<circle cx="408.40" cy="259.39" r="1.65" fill="#ff0a0a" stroke="#301010" stroke-width="0.45"/>
<circle cx="446.20" cy="258.88" r="1.65" fill="#ff0a0a" stroke="#301010" stroke-width="0.45"/>
<circle cx="370.50" cy="252.46" r="1.65" fill="#ff0a0a" stroke="#301010" stroke-width="0.45"/>
<circle cx="408.40" cy="290.58" r="1.65" fill="#ff0a0a" stroke="#301010" stroke-width="0.45"/>
<circle cx="446.20" cy="272.65" r="1.65" fill="#ff0a0a" stroke="#301010" stroke-width="0.45"/>
<circle cx="370.50" cy="266.16" r="1.65" fill="#ff0a0a" stroke="#301010" stroke-width="0.45"/>
<circle cx="408.40" cy="276.37" r="1.65" fill="#ff0a0a" stroke="#301010" stroke-width="0.45"/>
<circle cx="446.20" cy="277.60" r="1.65" fill="#ff0a0a" stroke="#301010" stroke-width="0.45"/>
<circle cx="370.50" cy="281.90" r="1.65" fill="#ff0a0a" stroke="#301010" stroke-width="0.45"/>
<circle cx="408.40" cy="280.59" r="1.65" fill="#ff0a0a" stroke="#301010" stroke-width="0.45"/>
<circle cx="446.20" cy="283.14" r="1.65" fill="#ff0a0a" stroke="#301010" stroke-width="0.45"/>
<circle cx="370.50" cy="283.65" r="1.65" fill="#ff0a0a" stroke="#301010" stroke-width="0.45"/>
<circle cx="408.40" cy="276.37" r="1.65" fill="#ff0a0a" stroke="#301010" stroke-width="0.45"/>
<circle cx="446.20" cy="277.60" r="1.65" fill="#ff0a0a" stroke="#301010" stroke-width="0.45"/>
<circle cx="370.50" cy="285.11" r="1.65" fill="#ff0a0a" stroke="#301010" stroke-width="0.45"/>
<circle cx="408.40" cy="284.38" r="1.65" fill="#ff0a0a" stroke="#301010" stroke-width="0.45"/>
<circle cx="446.20" cy="283.14" r="1.65" fill="#ff0a0a" stroke="#301010" stroke-width="0.45"/>
<line x1="345.10" y1="184.19" x2="345.10" y2="294.50" stroke="#333333" stroke-width="1.25"/>
<line x1="345.10" y1="294.00" x2="471.60" y2="294.00" stroke="#333333" stroke-width="1.25"/>
<line x1="342.10" y1="294.00" x2="345.10" y2="294.00" stroke="#333333" stroke-width="1"/>
<text x="340.10" y="295.90" font-size="5.2" class="xl" text-anchor="end" font-weight="bold" fill="#222">0</text>
<line x1="342.10" y1="272.14" x2="345.10" y2="272.14" stroke="#333333" stroke-width="1"/>
<text x="340.10" y="274.04" font-size="5.2" class="xl" text-anchor="end" font-weight="bold" fill="#222">3</text>
<line x1="342.10" y1="250.28" x2="345.10" y2="250.28" stroke="#333333" stroke-width="1"/>
<text x="340.10" y="252.18" font-size="5.2" class="xl" text-anchor="end" font-weight="bold" fill="#222">6</text>
<line x1="342.10" y1="228.42" x2="345.10" y2="228.42" stroke="#333333" stroke-width="1"/>
<text x="340.10" y="230.32" font-size="5.2" class="xl" text-anchor="end" font-weight="bold" fill="#222">9</text>
<line x1="342.10" y1="206.56" x2="345.10" y2="206.56" stroke="#333333" stroke-width="1"/>
<text x="340.10" y="208.46" font-size="5.2" class="xl" text-anchor="end" font-weight="bold" fill="#222">12</text>
<line x1="342.10" y1="184.69" x2="345.10" y2="184.69" stroke="#333333" stroke-width="1"/>
<text x="340.10" y="186.59" font-size="5.2" class="xl" text-anchor="end" font-weight="bold" fill="#222">15</text>
<line x1="370.50" y1="294.00" x2="370.50" y2="297.00" stroke="#333333" stroke-width="1"/>
<line x1="408.40" y1="294.00" x2="408.40" y2="297.00" stroke="#333333" stroke-width="1"/>
<line x1="446.20" y1="294.00" x2="446.20" y2="297.00" stroke="#333333" stroke-width="1"/>
<text x="369.80" y="303.60" font-size="5.3" text-anchor="middle" font-weight="bold" fill="#222" class="xl">before</text>
<text x="369.80" y="309.90" font-size="5.3" text-anchor="middle" font-weight="bold" fill="#222" class="xl">1<tspan font-size="3.9" dy="-2.1">st</tspan><tspan dy="2.1">dose</tspan></text>
<text x="407.70" y="303.60" font-size="5.3" text-anchor="middle" font-weight="bold" fill="#222" class="xl">3 days after</text>
<text x="407.70" y="309.90" font-size="5.3" text-anchor="middle" font-weight="bold" fill="#222" class="xl">2<tspan font-size="3.9" dy="-2.1">nd</tspan><tspan dy="2.1">dose</tspan></text>
<text x="445.50" y="303.60" font-size="5.3" text-anchor="middle" font-weight="bold" fill="#222" class="xl">21 days after</text>
<text x="445.50" y="309.90" font-size="5.3" text-anchor="middle" font-weight="bold" fill="#222" class="xl">2<tspan font-size="3.9" dy="-2.1">nd</tspan><tspan dy="2.1">dose</tspan></text>
<text transform="translate(326.90,239.65) rotate(-90)" font-size="6.3" text-anchor="middle" font-weight="bold" fill="#1a1a1a" class="xl">HLA-DR<tspan font-size="4.6" dy="-2.7">+</tspan><tspan dy="2.7">, %</tspan></text>
<text x="409.00" y="182.40" font-size="6.95" text-anchor="middle" font-weight="bold" fill="#222">NKT-like cells</text>
<text x="410.60" y="320.40" font-size="5.85" text-anchor="middle" font-weight="bold" fill="#1a1a1a">SARS-CoV-2 recovered</text>
<line x1="488" y1="180.30" x2="503.3" y2="180.30" stroke="#45dc5f" stroke-width="0.9"/>
<circle cx="495.8" cy="180.30" r="2.4" fill="#00c000" stroke="#1a1a1a" stroke-width="0.6"/>
<text x="511.7" y="179.00" font-size="6.1" font-weight="bold" fill="#222">SARS-CoV-2</text>
<text x="511.7" y="185.90" font-size="6.1" font-weight="bold" fill="#222">naive</text>
<line x1="488" y1="200.30" x2="503.3" y2="200.30" stroke="#ff6464" stroke-width="0.9"/>
<circle cx="495.8" cy="200.30" r="2.4" fill="#ff0a0a" stroke="#1a1a1a" stroke-width="0.6"/>
<text x="511.7" y="199.00" font-size="6.1" font-weight="bold" fill="#222">SARS-CoV-2</text>
<text x="511.7" y="205.90" font-size="6.1" font-weight="bold" fill="#222">recovered</text>
<line x1="54.10" y1="434.11" x2="54.10" y2="424.37" stroke="#7a7a7a" stroke-width="1"/>
<line x1="47.90" y1="424.37" x2="60.30" y2="424.37" stroke="#7a7a7a" stroke-width="1"/>
<rect x="41.50" y="434.11" width="25.2" height="15.09" fill="#d6d6d6" stroke="#7c7c7c" stroke-width="1.1"/>
<line x1="92.00" y1="424.23" x2="92.00" y2="401.87" stroke="#7a7a7a" stroke-width="1"/>
<line x1="85.80" y1="401.87" x2="98.20" y2="401.87" stroke="#7a7a7a" stroke-width="1"/>
<rect x="79.40" y="424.23" width="25.2" height="24.97" fill="#d6d6d6" stroke="#7c7c7c" stroke-width="1.1"/>
<line x1="129.80" y1="432.19" x2="129.80" y2="420.94" stroke="#7a7a7a" stroke-width="1"/>
<line x1="123.60" y1="420.94" x2="136.00" y2="420.94" stroke="#7a7a7a" stroke-width="1"/>
<rect x="117.20" y="432.19" width="25.2" height="17.01" fill="#d6d6d6" stroke="#7c7c7c" stroke-width="1.1"/>
<polyline points="54.10,427.52 92.00,362.63 129.80,405.57" fill="none" stroke="#45dc5f" stroke-width="1.05"/>
<polyline points="54.10,431.64 92.00,402.69 129.80,422.03" fill="none" stroke="#45dc5f" stroke-width="1.05"/>
<polyline points="54.10,433.01 92.00,430.54 129.80,441.11" fill="none" stroke="#45dc5f" stroke-width="1.05"/>
<polyline points="54.10,437.26 92.00,431.91 129.80,434.52" fill="none" stroke="#45dc5f" stroke-width="1.05"/>
<polyline points="54.10,438.64 92.00,433.01 129.80,442.61" fill="none" stroke="#45dc5f" stroke-width="1.05"/>
<polyline points="54.10,445.36 92.00,444.40 129.80,435.62" fill="none" stroke="#45dc5f" stroke-width="1.05"/>
<polyline points="54.10,408.04 92.00,414.90 129.80,426.56" fill="none" stroke="#ff6464" stroke-width="1.05"/>
<polyline points="54.10,431.64 92.00,419.02 129.80,424.37" fill="none" stroke="#ff6464" stroke-width="1.05"/>
<polyline points="54.10,433.97 92.00,429.99 129.80,428.62" fill="none" stroke="#ff6464" stroke-width="1.05"/>
<polyline points="54.10,438.36 92.00,445.22 129.80,442.34" fill="none" stroke="#ff6464" stroke-width="1.05"/>
<polyline points="54.10,440.01 92.00,438.36 129.80,440.97" fill="none" stroke="#ff6464" stroke-width="1.05"/>
<polyline points="54.10,442.34 92.00,429.99 129.80,430.95" fill="none" stroke="#ff6464" stroke-width="1.05"/>
<circle cx="54.10" cy="427.52" r="1.65" fill="#00c000" stroke="#301010" stroke-width="0.45"/>
<circle cx="92.00" cy="362.63" r="1.65" fill="#00c000" stroke="#301010" stroke-width="0.45"/>
<circle cx="129.80" cy="405.57" r="1.65" fill="#00c000" stroke="#301010" stroke-width="0.45"/>
<circle cx="54.10" cy="431.64" r="1.65" fill="#00c000" stroke="#301010" stroke-width="0.45"/>
<circle cx="92.00" cy="402.69" r="1.65" fill="#00c000" stroke="#301010" stroke-width="0.45"/>
<circle cx="129.80" cy="422.03" r="1.65" fill="#00c000" stroke="#301010" stroke-width="0.45"/>
<circle cx="54.10" cy="433.01" r="1.65" fill="#00c000" stroke="#301010" stroke-width="0.45"/>
<circle cx="92.00" cy="430.54" r="1.65" fill="#00c000" stroke="#301010" stroke-width="0.45"/>
<circle cx="129.80" cy="441.11" r="1.65" fill="#00c000" stroke="#301010" stroke-width="0.45"/>
<circle cx="54.10" cy="437.26" r="1.65" fill="#00c000" stroke="#301010" stroke-width="0.45"/>
<circle cx="92.00" cy="431.91" r="1.65" fill="#00c000" stroke="#301010" stroke-width="0.45"/>
<circle cx="129.80" cy="434.52" r="1.65" fill="#00c000" stroke="#301010" stroke-width="0.45"/>
<circle cx="54.10" cy="438.64" r="1.65" fill="#00c000" stroke="#301010" stroke-width="0.45"/>
<circle cx="92.00" cy="433.01" r="1.65" fill="#00c000" stroke="#301010" stroke-width="0.45"/>
<circle cx="129.80" cy="442.61" r="1.65" fill="#00c000" stroke="#301010" stroke-width="0.45"/>
<circle cx="54.10" cy="445.36" r="1.65" fill="#00c000" stroke="#301010" stroke-width="0.45"/>
<circle cx="92.00" cy="444.40" r="1.65" fill="#00c000" stroke="#301010" stroke-width="0.45"/>
<circle cx="129.80" cy="435.62" r="1.65" fill="#00c000" stroke="#301010" stroke-width="0.45"/>
<circle cx="54.10" cy="408.04" r="1.65" fill="#ff0a0a" stroke="#301010" stroke-width="0.45"/>
<circle cx="92.00" cy="414.90" r="1.65" fill="#ff0a0a" stroke="#301010" stroke-width="0.45"/>
<circle cx="129.80" cy="426.56" r="1.65" fill="#ff0a0a" stroke="#301010" stroke-width="0.45"/>
<circle cx="54.10" cy="431.64" r="1.65" fill="#ff0a0a" stroke="#301010" stroke-width="0.45"/>
<circle cx="92.00" cy="419.02" r="1.65" fill="#ff0a0a" stroke="#301010" stroke-width="0.45"/>
<circle cx="129.80" cy="424.37" r="1.65" fill="#ff0a0a" stroke="#301010" stroke-width="0.45"/>
<circle cx="54.10" cy="433.97" r="1.65" fill="#ff0a0a" stroke="#301010" stroke-width="0.45"/>
<circle cx="92.00" cy="429.99" r="1.65" fill="#ff0a0a" stroke="#301010" stroke-width="0.45"/>
<circle cx="129.80" cy="428.62" r="1.65" fill="#ff0a0a" stroke="#301010" stroke-width="0.45"/>
<circle cx="54.10" cy="438.36" r="1.65" fill="#ff0a0a" stroke="#301010" stroke-width="0.45"/>
<circle cx="92.00" cy="445.22" r="1.65" fill="#ff0a0a" stroke="#301010" stroke-width="0.45"/>
<circle cx="129.80" cy="442.34" r="1.65" fill="#ff0a0a" stroke="#301010" stroke-width="0.45"/>
<circle cx="54.10" cy="440.01" r="1.65" fill="#ff0a0a" stroke="#301010" stroke-width="0.45"/>
<circle cx="92.00" cy="438.36" r="1.65" fill="#ff0a0a" stroke="#301010" stroke-width="0.45"/>
<circle cx="129.80" cy="440.97" r="1.65" fill="#ff0a0a" stroke="#301010" stroke-width="0.45"/>
<circle cx="54.10" cy="442.34" r="1.65" fill="#ff0a0a" stroke="#301010" stroke-width="0.45"/>
<circle cx="92.00" cy="429.99" r="1.65" fill="#ff0a0a" stroke="#301010" stroke-width="0.45"/>
<circle cx="129.80" cy="430.95" r="1.65" fill="#ff0a0a" stroke="#301010" stroke-width="0.45"/>
<line x1="28.70" y1="338.94" x2="28.70" y2="449.70" stroke="#333333" stroke-width="1.25"/>
<line x1="28.70" y1="449.20" x2="155.20" y2="449.20" stroke="#333333" stroke-width="1.25"/>
<line x1="25.70" y1="449.20" x2="28.70" y2="449.20" stroke="#333333" stroke-width="1"/>
<text x="23.70" y="451.10" font-size="5.2" class="xl" text-anchor="end" font-weight="bold" fill="#222">0</text>
<line x1="25.70" y1="421.76" x2="28.70" y2="421.76" stroke="#333333" stroke-width="1"/>
<text x="23.70" y="423.66" font-size="5.2" class="xl" text-anchor="end" font-weight="bold" fill="#222">2</text>
<line x1="25.70" y1="394.32" x2="28.70" y2="394.32" stroke="#333333" stroke-width="1"/>
<text x="23.70" y="396.22" font-size="5.2" class="xl" text-anchor="end" font-weight="bold" fill="#222">4</text>
<line x1="25.70" y1="366.88" x2="28.70" y2="366.88" stroke="#333333" stroke-width="1"/>
<text x="23.70" y="368.78" font-size="5.2" class="xl" text-anchor="end" font-weight="bold" fill="#222">6</text>
<line x1="25.70" y1="339.44" x2="28.70" y2="339.44" stroke="#333333" stroke-width="1"/>
<text x="23.70" y="341.34" font-size="5.2" class="xl" text-anchor="end" font-weight="bold" fill="#222">8</text>
<line x1="54.10" y1="449.20" x2="54.10" y2="452.20" stroke="#333333" stroke-width="1"/>
<line x1="92.00" y1="449.20" x2="92.00" y2="452.20" stroke="#333333" stroke-width="1"/>
<line x1="129.80" y1="449.20" x2="129.80" y2="452.20" stroke="#333333" stroke-width="1"/>
<text x="53.40" y="458.80" font-size="5.3" text-anchor="middle" font-weight="bold" fill="#222" class="xl">before</text>
<text x="53.40" y="465.10" font-size="5.3" text-anchor="middle" font-weight="bold" fill="#222" class="xl">1<tspan font-size="3.9" dy="-2.1">st</tspan><tspan dy="2.1"> dose</tspan></text>
<text x="91.30" y="458.80" font-size="5.3" text-anchor="middle" font-weight="bold" fill="#222" class="xl">3 days after</text>
<text x="91.30" y="465.10" font-size="5.3" text-anchor="middle" font-weight="bold" fill="#222" class="xl">2<tspan font-size="3.9" dy="-2.1">nd</tspan><tspan dy="2.1"> dose</tspan></text>
<text x="129.10" y="458.80" font-size="5.3" text-anchor="middle" font-weight="bold" fill="#222" class="xl">21 days after</text>
<text x="129.10" y="465.10" font-size="5.3" text-anchor="middle" font-weight="bold" fill="#222" class="xl">2<tspan font-size="3.9" dy="-2.1">nd</tspan><tspan dy="2.1"> dose</tspan></text>
<text transform="translate(13.80,395.17) rotate(-90)" font-size="6.3" text-anchor="middle" font-weight="bold" fill="#1a1a1a" class="xl">HLA-DR<tspan font-size="4.6" dy="-2.7">+</tspan><tspan dy="2.7">, %</tspan></text>
<text x="91.50" y="337.90" font-size="6.95" text-anchor="middle" font-weight="bold" fill="#222">NK cells</text>
<line x1="54.50" y1="353.20" x2="92.80" y2="353.20" stroke="#505050" stroke-width="1.0"/>
<polygon points="74.50,347.45 75.12,348.75 76.54,348.94 75.50,349.92 75.76,351.34 74.50,350.65 73.24,351.34 73.50,349.92 72.46,348.94 73.88,348.75" fill="#111"/>
<line x1="211.60" y1="436.30" x2="211.60" y2="430.13" stroke="#7a7a7a" stroke-width="1"/>
<line x1="205.40" y1="430.13" x2="217.80" y2="430.13" stroke="#7a7a7a" stroke-width="1"/>
<rect x="199.00" y="436.30" width="25.2" height="12.90" fill="#d6d6d6" stroke="#7c7c7c" stroke-width="1.1"/>
<line x1="249.50" y1="419.56" x2="249.50" y2="391.30" stroke="#7a7a7a" stroke-width="1"/>
<line x1="243.30" y1="391.30" x2="255.70" y2="391.30" stroke="#7a7a7a" stroke-width="1"/>
<rect x="236.90" y="419.56" width="25.2" height="29.64" fill="#d6d6d6" stroke="#7c7c7c" stroke-width="1.1"/>
<line x1="287.30" y1="432.74" x2="287.30" y2="418.47" stroke="#7a7a7a" stroke-width="1"/>
<line x1="281.10" y1="418.47" x2="293.50" y2="418.47" stroke="#7a7a7a" stroke-width="1"/>
<rect x="274.70" y="432.74" width="25.2" height="16.46" fill="#d6d6d6" stroke="#7c7c7c" stroke-width="1.1"/>
<polyline points="211.60,427.52 249.50,362.63 287.30,405.57" fill="none" stroke="#45dc5f" stroke-width="1.05"/>
<polyline points="211.60,431.64 249.50,402.69 287.30,422.03" fill="none" stroke="#45dc5f" stroke-width="1.05"/>
<polyline points="211.60,433.01 249.50,430.54 287.30,441.11" fill="none" stroke="#45dc5f" stroke-width="1.05"/>
<polyline points="211.60,437.26 249.50,431.91 287.30,434.52" fill="none" stroke="#45dc5f" stroke-width="1.05"/>
<polyline points="211.60,438.64 249.50,433.01 287.30,442.61" fill="none" stroke="#45dc5f" stroke-width="1.05"/>
<polyline points="211.60,445.36 249.50,444.40 287.30,435.62" fill="none" stroke="#45dc5f" stroke-width="1.05"/>
<circle cx="211.60" cy="427.52" r="1.65" fill="#00c000" stroke="#301010" stroke-width="0.45"/>
<circle cx="249.50" cy="362.63" r="1.65" fill="#00c000" stroke="#301010" stroke-width="0.45"/>
<circle cx="287.30" cy="405.57" r="1.65" fill="#00c000" stroke="#301010" stroke-width="0.45"/>
<circle cx="211.60" cy="431.64" r="1.65" fill="#00c000" stroke="#301010" stroke-width="0.45"/>
<circle cx="249.50" cy="402.69" r="1.65" fill="#00c000" stroke="#301010" stroke-width="0.45"/>
<circle cx="287.30" cy="422.03" r="1.65" fill="#00c000" stroke="#301010" stroke-width="0.45"/>
<circle cx="211.60" cy="433.01" r="1.65" fill="#00c000" stroke="#301010" stroke-width="0.45"/>
<circle cx="249.50" cy="430.54" r="1.65" fill="#00c000" stroke="#301010" stroke-width="0.45"/>
<circle cx="287.30" cy="441.11" r="1.65" fill="#00c000" stroke="#301010" stroke-width="0.45"/>
<circle cx="211.60" cy="437.26" r="1.65" fill="#00c000" stroke="#301010" stroke-width="0.45"/>
<circle cx="249.50" cy="431.91" r="1.65" fill="#00c000" stroke="#301010" stroke-width="0.45"/>
<circle cx="287.30" cy="434.52" r="1.65" fill="#00c000" stroke="#301010" stroke-width="0.45"/>
<circle cx="211.60" cy="438.64" r="1.65" fill="#00c000" stroke="#301010" stroke-width="0.45"/>
<circle cx="249.50" cy="433.01" r="1.65" fill="#00c000" stroke="#301010" stroke-width="0.45"/>
<circle cx="287.30" cy="442.61" r="1.65" fill="#00c000" stroke="#301010" stroke-width="0.45"/>
<circle cx="211.60" cy="445.36" r="1.65" fill="#00c000" stroke="#301010" stroke-width="0.45"/>
<circle cx="249.50" cy="444.40" r="1.65" fill="#00c000" stroke="#301010" stroke-width="0.45"/>
<circle cx="287.30" cy="435.62" r="1.65" fill="#00c000" stroke="#301010" stroke-width="0.45"/>
<line x1="186.20" y1="338.94" x2="186.20" y2="449.70" stroke="#333333" stroke-width="1.25"/>
<line x1="186.20" y1="449.20" x2="312.70" y2="449.20" stroke="#333333" stroke-width="1.25"/>
<line x1="183.20" y1="449.20" x2="186.20" y2="449.20" stroke="#333333" stroke-width="1"/>
<text x="181.20" y="451.10" font-size="5.2" class="xl" text-anchor="end" font-weight="bold" fill="#222">0</text>
<line x1="183.20" y1="421.76" x2="186.20" y2="421.76" stroke="#333333" stroke-width="1"/>
<text x="181.20" y="423.66" font-size="5.2" class="xl" text-anchor="end" font-weight="bold" fill="#222">2</text>
<line x1="183.20" y1="394.32" x2="186.20" y2="394.32" stroke="#333333" stroke-width="1"/>
<text x="181.20" y="396.22" font-size="5.2" class="xl" text-anchor="end" font-weight="bold" fill="#222">4</text>
<line x1="183.20" y1="366.88" x2="186.20" y2="366.88" stroke="#333333" stroke-width="1"/>
<text x="181.20" y="368.78" font-size="5.2" class="xl" text-anchor="end" font-weight="bold" fill="#222">6</text>
<line x1="183.20" y1="339.44" x2="186.20" y2="339.44" stroke="#333333" stroke-width="1"/>
<text x="181.20" y="341.34" font-size="5.2" class="xl" text-anchor="end" font-weight="bold" fill="#222">8</text>
<line x1="211.60" y1="449.20" x2="211.60" y2="452.20" stroke="#333333" stroke-width="1"/>
<line x1="249.50" y1="449.20" x2="249.50" y2="452.20" stroke="#333333" stroke-width="1"/>
<line x1="287.30" y1="449.20" x2="287.30" y2="452.20" stroke="#333333" stroke-width="1"/>
<text x="210.90" y="458.80" font-size="5.3" text-anchor="middle" font-weight="bold" fill="#222" class="xl">before</text>
<text x="210.90" y="465.10" font-size="5.3" text-anchor="middle" font-weight="bold" fill="#222" class="xl">1<tspan font-size="3.9" dy="-2.1">st</tspan><tspan dy="2.1"> dose</tspan></text>
<text x="248.80" y="458.80" font-size="5.3" text-anchor="middle" font-weight="bold" fill="#222" class="xl">3 days after</text>
<text x="248.80" y="465.10" font-size="5.3" text-anchor="middle" font-weight="bold" fill="#222" class="xl">2<tspan font-size="3.9" dy="-2.1">nd</tspan><tspan dy="2.1"> dose</tspan></text>
<text x="286.60" y="458.80" font-size="5.3" text-anchor="middle" font-weight="bold" fill="#222" class="xl">21 days after</text>
<text x="286.60" y="465.10" font-size="5.3" text-anchor="middle" font-weight="bold" fill="#222" class="xl">2<tspan font-size="3.9" dy="-2.1">nd</tspan><tspan dy="2.1"> dose</tspan></text>
<text transform="translate(171.30,395.17) rotate(-90)" font-size="6.3" text-anchor="middle" font-weight="bold" fill="#1a1a1a" class="xl">HLA-DR<tspan font-size="4.6" dy="-2.7">+</tspan><tspan dy="2.7">, %</tspan></text>
<text x="250.80" y="338.10" font-size="6.95" text-anchor="middle" font-weight="bold" fill="#222">NK cells</text>
<text x="250.00" y="475.30" font-size="5.85" text-anchor="middle" font-weight="bold" fill="#1a1a1a">SARS-CoV-2 naive</text>
<line x1="210.20" y1="354.40" x2="248.00" y2="354.40" stroke="#555555" stroke-width="1.0"/>
<polygon points="227.70,348.95 228.32,350.25 229.74,350.44 228.70,351.42 228.96,352.84 227.70,352.15 226.44,352.84 226.70,351.42 225.66,350.44 227.08,350.25" fill="#111"/>
<line x1="370.50" y1="432.32" x2="370.50" y2="419.98" stroke="#7a7a7a" stroke-width="1"/>
<line x1="364.30" y1="419.98" x2="376.70" y2="419.98" stroke="#7a7a7a" stroke-width="1"/>
<rect x="357.90" y="432.32" width="25.2" height="16.88" fill="#d6d6d6" stroke="#7c7c7c" stroke-width="1.1"/>
<line x1="408.40" y1="429.58" x2="408.40" y2="418.33" stroke="#7a7a7a" stroke-width="1"/>
<line x1="402.20" y1="418.33" x2="414.60" y2="418.33" stroke="#7a7a7a" stroke-width="1"/>
<rect x="395.80" y="429.58" width="25.2" height="19.62" fill="#d6d6d6" stroke="#7c7c7c" stroke-width="1.1"/>
<line x1="446.20" y1="432.32" x2="446.20" y2="424.92" stroke="#7a7a7a" stroke-width="1"/>
<line x1="440.00" y1="424.92" x2="452.40" y2="424.92" stroke="#7a7a7a" stroke-width="1"/>
<rect x="433.60" y="432.32" width="25.2" height="16.88" fill="#d6d6d6" stroke="#7c7c7c" stroke-width="1.1"/>
<polyline points="370.50,408.04 408.40,414.90 446.20,426.56" fill="none" stroke="#ff6464" stroke-width="1.05"/>
<polyline points="370.50,431.64 408.40,419.02 446.20,424.37" fill="none" stroke="#ff6464" stroke-width="1.05"/>
<polyline points="370.50,433.97 408.40,429.99 446.20,428.62" fill="none" stroke="#ff6464" stroke-width="1.05"/>
<polyline points="370.50,438.36 408.40,445.22 446.20,442.34" fill="none" stroke="#ff6464" stroke-width="1.05"/>
<polyline points="370.50,440.01 408.40,438.36 446.20,440.97" fill="none" stroke="#ff6464" stroke-width="1.05"/>
<polyline points="370.50,442.34 408.40,429.99 446.20,430.95" fill="none" stroke="#ff6464" stroke-width="1.05"/>
<circle cx="370.50" cy="408.04" r="1.65" fill="#ff0a0a" stroke="#301010" stroke-width="0.45"/>
<circle cx="408.40" cy="414.90" r="1.65" fill="#ff0a0a" stroke="#301010" stroke-width="0.45"/>
<circle cx="446.20" cy="426.56" r="1.65" fill="#ff0a0a" stroke="#301010" stroke-width="0.45"/>
<circle cx="370.50" cy="431.64" r="1.65" fill="#ff0a0a" stroke="#301010" stroke-width="0.45"/>
<circle cx="408.40" cy="419.02" r="1.65" fill="#ff0a0a" stroke="#301010" stroke-width="0.45"/>
<circle cx="446.20" cy="424.37" r="1.65" fill="#ff0a0a" stroke="#301010" stroke-width="0.45"/>
<circle cx="370.50" cy="433.97" r="1.65" fill="#ff0a0a" stroke="#301010" stroke-width="0.45"/>
<circle cx="408.40" cy="429.99" r="1.65" fill="#ff0a0a" stroke="#301010" stroke-width="0.45"/>
<circle cx="446.20" cy="428.62" r="1.65" fill="#ff0a0a" stroke="#301010" stroke-width="0.45"/>
<circle cx="370.50" cy="438.36" r="1.65" fill="#ff0a0a" stroke="#301010" stroke-width="0.45"/>
<circle cx="408.40" cy="445.22" r="1.65" fill="#ff0a0a" stroke="#301010" stroke-width="0.45"/>
<circle cx="446.20" cy="442.34" r="1.65" fill="#ff0a0a" stroke="#301010" stroke-width="0.45"/>
<circle cx="370.50" cy="440.01" r="1.65" fill="#ff0a0a" stroke="#301010" stroke-width="0.45"/>
<circle cx="408.40" cy="438.36" r="1.65" fill="#ff0a0a" stroke="#301010" stroke-width="0.45"/>
<circle cx="446.20" cy="440.97" r="1.65" fill="#ff0a0a" stroke="#301010" stroke-width="0.45"/>
<circle cx="370.50" cy="442.34" r="1.65" fill="#ff0a0a" stroke="#301010" stroke-width="0.45"/>
<circle cx="408.40" cy="429.99" r="1.65" fill="#ff0a0a" stroke="#301010" stroke-width="0.45"/>
<circle cx="446.20" cy="430.95" r="1.65" fill="#ff0a0a" stroke="#301010" stroke-width="0.45"/>
<line x1="345.10" y1="338.94" x2="345.10" y2="449.70" stroke="#333333" stroke-width="1.25"/>
<line x1="345.10" y1="449.20" x2="471.60" y2="449.20" stroke="#333333" stroke-width="1.25"/>
<line x1="342.10" y1="449.20" x2="345.10" y2="449.20" stroke="#333333" stroke-width="1"/>
<text x="340.10" y="451.10" font-size="5.2" class="xl" text-anchor="end" font-weight="bold" fill="#222">0</text>
<line x1="342.10" y1="421.76" x2="345.10" y2="421.76" stroke="#333333" stroke-width="1"/>
<text x="340.10" y="423.66" font-size="5.2" class="xl" text-anchor="end" font-weight="bold" fill="#222">2</text>
<line x1="342.10" y1="394.32" x2="345.10" y2="394.32" stroke="#333333" stroke-width="1"/>
<text x="340.10" y="396.22" font-size="5.2" class="xl" text-anchor="end" font-weight="bold" fill="#222">4</text>
<line x1="342.10" y1="366.88" x2="345.10" y2="366.88" stroke="#333333" stroke-width="1"/>
<text x="340.10" y="368.78" font-size="5.2" class="xl" text-anchor="end" font-weight="bold" fill="#222">6</text>
<line x1="342.10" y1="339.44" x2="345.10" y2="339.44" stroke="#333333" stroke-width="1"/>
<text x="340.10" y="341.34" font-size="5.2" class="xl" text-anchor="end" font-weight="bold" fill="#222">8</text>
<line x1="370.50" y1="449.20" x2="370.50" y2="452.20" stroke="#333333" stroke-width="1"/>
<line x1="408.40" y1="449.20" x2="408.40" y2="452.20" stroke="#333333" stroke-width="1"/>
<line x1="446.20" y1="449.20" x2="446.20" y2="452.20" stroke="#333333" stroke-width="1"/>
<text x="369.80" y="458.80" font-size="5.3" text-anchor="middle" font-weight="bold" fill="#222" class="xl">before</text>
<text x="369.80" y="465.10" font-size="5.3" text-anchor="middle" font-weight="bold" fill="#222" class="xl">1<tspan font-size="3.9" dy="-2.1">st</tspan><tspan dy="2.1"> dose</tspan></text>
<text x="407.70" y="458.80" font-size="5.3" text-anchor="middle" font-weight="bold" fill="#222" class="xl">3 days after</text>
<text x="407.70" y="465.10" font-size="5.3" text-anchor="middle" font-weight="bold" fill="#222" class="xl">2<tspan font-size="3.9" dy="-2.1">nd</tspan><tspan dy="2.1"> dose</tspan></text>
<text x="445.50" y="458.80" font-size="5.3" text-anchor="middle" font-weight="bold" fill="#222" class="xl">21 days after</text>
<text x="445.50" y="465.10" font-size="5.3" text-anchor="middle" font-weight="bold" fill="#222" class="xl">2<tspan font-size="3.9" dy="-2.1">nd</tspan><tspan dy="2.1"> dose</tspan></text>
<text transform="translate(330.20,395.17) rotate(-90)" font-size="6.3" text-anchor="middle" font-weight="bold" fill="#1a1a1a" class="xl">HLA-DR<tspan font-size="4.6" dy="-2.7">+</tspan><tspan dy="2.7">, %</tspan></text>
<text x="411.80" y="341.30" font-size="6.95" text-anchor="middle" font-weight="bold" fill="#222">NK cells</text>
<text x="411.30" y="475.40" font-size="5.85" text-anchor="middle" font-weight="bold" fill="#1a1a1a">SARS-CoV-2 recovered</text>
<line x1="488" y1="334.70" x2="503.3" y2="334.70" stroke="#45dc5f" stroke-width="0.9"/>
<circle cx="495.8" cy="334.70" r="2.4" fill="#00c000" stroke="#1a1a1a" stroke-width="0.6"/>
<text x="511.7" y="333.40" font-size="6.1" font-weight="bold" fill="#222">SARS-CoV-2</text>
<text x="511.7" y="340.30" font-size="6.1" font-weight="bold" fill="#222">naive</text>
<line x1="488" y1="354.70" x2="503.3" y2="354.70" stroke="#ff6464" stroke-width="0.9"/>
<circle cx="495.8" cy="354.70" r="2.4" fill="#ff0a0a" stroke="#1a1a1a" stroke-width="0.6"/>
<text x="511.7" y="353.40" font-size="6.1" font-weight="bold" fill="#222">SARS-CoV-2</text>
<text x="511.7" y="360.30" font-size="6.1" font-weight="bold" fill="#222">recovered</text>
<text x="4.1" y="13.90" font-size="13.8" font-weight="bold" fill="#111">A</text>
<text x="3.6" y="168.10" font-size="13.8" font-weight="bold" fill="#111">B</text>
<text x="4.9" y="325.20" font-size="13.8" font-weight="bold" fill="#111">C</text>
</svg></body></html>
